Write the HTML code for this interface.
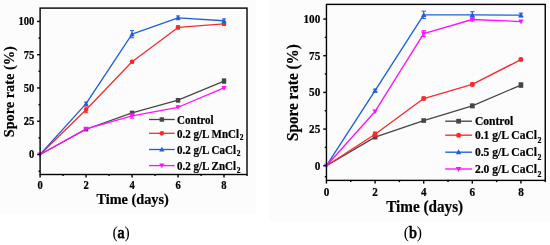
<!DOCTYPE html>
<html><head><meta charset="utf-8"><style>
html,body{margin:0;padding:0;background:#fff;width:550px;height:245px;overflow:hidden}
svg{display:block;will-change:transform}
.b{font-family:"Liberation Serif",serif;font-weight:bold;fill:#000;stroke:#000;stroke-width:0.2px}
.r{font-family:"Liberation Serif",serif;fill:#000}
</style></head><body>
<svg width="550" height="245" viewBox="0 0 550 245">
<rect width="550" height="245" fill="#fff"/>
<rect x="0" y="0" width="256.2" height="213.6" fill="#fcfcfc"/>
<rect x="268.8" y="0" width="281.2" height="221.5" fill="#fcfcfc"/>
<polyline points="40.10,154.53 86.08,129.24 132.06,112.86 178.04,100.22 224.02,81.05" fill="none" stroke="#474747" stroke-width="1.3" stroke-linejoin="round"/>
<rect x="83.85" y="127.00" width="4.46" height="4.46" fill="#474747"/>
<rect x="129.83" y="110.63" width="4.46" height="4.46" fill="#474747"/>
<path d="M178.04,98.49V101.95M176.04,98.49h4.0M176.04,101.95h4.0" stroke="#474747" stroke-width="1" fill="none"/>
<rect x="175.81" y="97.98" width="4.46" height="4.46" fill="#474747"/>
<path d="M224.02,78.92V83.18M222.02,78.92h4.0M222.02,83.18h4.0" stroke="#474747" stroke-width="1" fill="none"/>
<rect x="221.79" y="78.82" width="4.46" height="4.46" fill="#474747"/>
<polyline points="40.10,154.53 86.08,109.80 132.06,61.75 178.04,27.40 224.02,23.94" fill="none" stroke="#f62c2c" stroke-width="1.3" stroke-linejoin="round"/>
<path d="M86.08,106.87V112.73M84.08,106.87h4.0M84.08,112.73h4.0" stroke="#f62c2c" stroke-width="1" fill="none"/>
<circle cx="86.08" cy="109.80" r="2.35" fill="#f62c2c"/>
<path d="M132.06,60.41V63.08M130.06,60.41h4.0M130.06,63.08h4.0" stroke="#f62c2c" stroke-width="1" fill="none"/>
<circle cx="132.06" cy="61.75" r="2.35" fill="#f62c2c"/>
<path d="M178.04,25.80V29.00M176.04,25.80h4.0M176.04,29.00h4.0" stroke="#f62c2c" stroke-width="1" fill="none"/>
<circle cx="178.04" cy="27.40" r="2.35" fill="#f62c2c"/>
<path d="M224.02,22.61V25.27M222.02,22.61h4.0M222.02,25.27h4.0" stroke="#f62c2c" stroke-width="1" fill="none"/>
<circle cx="224.02" cy="23.94" r="2.35" fill="#f62c2c"/>
<polyline points="40.10,154.53 86.08,103.68 132.06,34.19 178.04,17.82 224.02,20.74" fill="none" stroke="#1e60dc" stroke-width="1.3" stroke-linejoin="round"/>
<path d="M86.08,102.08V105.28M84.08,102.08h4.0M84.08,105.28h4.0" stroke="#1e60dc" stroke-width="1" fill="none"/>
<path d="M86.08,100.98L88.66,105.68L83.50,105.68Z" fill="#1e60dc"/>
<path d="M132.06,30.60V37.78M130.06,30.60h4.0M130.06,37.78h4.0" stroke="#1e60dc" stroke-width="1" fill="none"/>
<path d="M132.06,31.49L134.65,36.19L129.47,36.19Z" fill="#1e60dc"/>
<path d="M178.04,15.95V19.68M176.04,15.95h4.0M176.04,19.68h4.0" stroke="#1e60dc" stroke-width="1" fill="none"/>
<path d="M178.04,15.11L180.62,19.81L175.45,19.81Z" fill="#1e60dc"/>
<path d="M224.02,18.88V22.61M222.02,18.88h4.0M222.02,22.61h4.0" stroke="#1e60dc" stroke-width="1" fill="none"/>
<path d="M224.02,18.04L226.60,22.74L221.43,22.74Z" fill="#1e60dc"/>
<polyline points="40.10,154.53 86.08,128.84 132.06,115.79 178.04,107.27 224.02,87.97" fill="none" stroke="#ff10ff" stroke-width="1.3" stroke-linejoin="round"/>
<path d="M40.10,157.23L42.69,152.53L37.52,152.53Z" fill="#ff10ff"/>
<path d="M86.08,131.54L88.66,126.84L83.50,126.84Z" fill="#ff10ff"/>
<path d="M132.06,113.40V118.19M130.06,113.40h4.0M130.06,118.19h4.0" stroke="#ff10ff" stroke-width="1" fill="none"/>
<path d="M132.06,118.49L134.65,113.79L129.47,113.79Z" fill="#ff10ff"/>
<path d="M178.04,109.97L180.62,105.27L175.45,105.27Z" fill="#ff10ff"/>
<path d="M224.02,90.67L226.60,85.97L221.43,85.97Z" fill="#ff10ff"/>
<rect x="40.10" y="8.10" width="206.91" height="166.40" fill="none" stroke="#000" stroke-width="1.4"/>
<path d="M40.10,174.50v3" stroke="#000" stroke-width="1.4"/>
<path d="M63.09,174.50v1.6" stroke="#000" stroke-width="1.4"/>
<path d="M86.08,174.50v3" stroke="#000" stroke-width="1.4"/>
<path d="M109.07,174.50v1.6" stroke="#000" stroke-width="1.4"/>
<path d="M132.06,174.50v3" stroke="#000" stroke-width="1.4"/>
<path d="M155.05,174.50v1.6" stroke="#000" stroke-width="1.4"/>
<path d="M178.04,174.50v3" stroke="#000" stroke-width="1.4"/>
<path d="M201.03,174.50v1.6" stroke="#000" stroke-width="1.4"/>
<path d="M224.02,174.50v3" stroke="#000" stroke-width="1.4"/>
<path d="M247.01,174.50v1.6" stroke="#000" stroke-width="1.4"/>
<path d="M40.10,171.17h-1.6" stroke="#000" stroke-width="1.4"/>
<path d="M40.10,137.89h-1.6" stroke="#000" stroke-width="1.4"/>
<path d="M40.10,104.61h-1.6" stroke="#000" stroke-width="1.4"/>
<path d="M40.10,71.33h-1.6" stroke="#000" stroke-width="1.4"/>
<path d="M40.10,38.05h-1.6" stroke="#000" stroke-width="1.4"/>
<path d="M40.10,154.53h-3" stroke="#000" stroke-width="1.4"/>
<text transform="translate(34.30,158.43) scale(1,1.1)" text-anchor="end" class="b" font-size="10.6">0</text>
<path d="M40.10,121.25h-3" stroke="#000" stroke-width="1.4"/>
<text transform="translate(34.30,125.15) scale(1,1.1)" text-anchor="end" class="b" font-size="10.6">25</text>
<path d="M40.10,87.97h-3" stroke="#000" stroke-width="1.4"/>
<text transform="translate(34.30,91.87) scale(1,1.1)" text-anchor="end" class="b" font-size="10.6">50</text>
<path d="M40.10,54.69h-3" stroke="#000" stroke-width="1.4"/>
<text transform="translate(34.30,58.59) scale(1,1.1)" text-anchor="end" class="b" font-size="10.6">75</text>
<path d="M40.10,21.41h-3" stroke="#000" stroke-width="1.4"/>
<text transform="translate(34.30,25.31) scale(1,1.1)" text-anchor="end" class="b" font-size="10.6">100</text>
<text transform="translate(40.10,188.90) scale(1,1.1)" text-anchor="middle" class="b" font-size="10.6">0</text>
<text transform="translate(86.08,188.90) scale(1,1.1)" text-anchor="middle" class="b" font-size="10.6">2</text>
<text transform="translate(132.06,188.90) scale(1,1.1)" text-anchor="middle" class="b" font-size="10.6">4</text>
<text transform="translate(178.04,188.90) scale(1,1.1)" text-anchor="middle" class="b" font-size="10.6">6</text>
<text transform="translate(224.02,188.90) scale(1,1.1)" text-anchor="middle" class="b" font-size="10.6">8</text>
<text transform="translate(132.60,204.20) scale(1,1.04)" text-anchor="middle" class="b" font-size="14.3">Time (days)</text>
<text transform="translate(13.60,91.80) rotate(-90) scale(1,1.04)" text-anchor="middle" class="b" font-size="14.3">Spore rate (%)</text>
<path d="M149.00,119.50H174.70" stroke="#474747" stroke-width="1.3"/>
<rect x="159.62" y="117.27" width="4.46" height="4.46" fill="#474747"/>
<text transform="translate(177.10,123.80) scale(1,1.07)" class="b" font-size="11">Control</text>
<path d="M149.00,133.30H174.70" stroke="#f62c2c" stroke-width="1.3"/>
<circle cx="161.85" cy="133.30" r="2.35" fill="#f62c2c"/>
<text transform="translate(177.10,137.60) scale(1,1.07)" class="b" font-size="11">0.2 g/L MnCl<tspan font-size="0.68em" dx="0.7" dy="2.5">2</tspan></text>
<path d="M149.00,149.50H174.70" stroke="#1e60dc" stroke-width="1.3"/>
<path d="M161.85,146.80L164.44,151.50L159.26,151.50Z" fill="#1e60dc"/>
<text transform="translate(177.10,153.80) scale(1,1.07)" class="b" font-size="11">0.2 g/L CaCl<tspan font-size="0.68em" dx="0.7" dy="2.5">2</tspan></text>
<path d="M149.00,165.60H174.70" stroke="#ff10ff" stroke-width="1.3"/>
<path d="M161.85,168.30L164.44,163.60L159.26,163.60Z" fill="#ff10ff"/>
<text transform="translate(177.10,169.90) scale(1,1.07)" class="b" font-size="11">0.2 g/L ZnCl<tspan font-size="0.68em" dx="0.7" dy="2.5">2</tspan></text>
<text x="121.1" y="238.3" text-anchor="middle" class="r" font-size="15.7">(<tspan stroke="#000" stroke-width="0.75">a</tspan>)</text>
<polyline points="326.45,165.73 375.07,137.13 423.69,120.56 472.31,105.89 520.93,85.06" fill="none" stroke="#474747" stroke-width="1.35" stroke-linejoin="round"/>
<rect x="372.74" y="134.80" width="4.66" height="4.66" fill="#474747"/>
<rect x="421.36" y="118.23" width="4.66" height="4.66" fill="#474747"/>
<path d="M472.31,104.13V107.65M470.11,104.13h4.4M470.11,107.65h4.4" stroke="#474747" stroke-width="1" fill="none"/>
<rect x="469.98" y="103.56" width="4.66" height="4.66" fill="#474747"/>
<path d="M520.93,82.86V87.26M518.73,82.86h4.4M518.73,87.26h4.4" stroke="#474747" stroke-width="1" fill="none"/>
<rect x="518.60" y="82.73" width="4.66" height="4.66" fill="#474747"/>
<polyline points="326.45,165.73 375.07,134.20 423.69,98.56 472.31,84.47 520.93,59.54" fill="none" stroke="#f62c2c" stroke-width="1.35" stroke-linejoin="round"/>
<path d="M375.07,132.00V136.40M372.87,132.00h4.4M372.87,136.40h4.4" stroke="#f62c2c" stroke-width="1" fill="none"/>
<circle cx="375.07" cy="134.20" r="2.45" fill="#f62c2c"/>
<path d="M423.69,97.09V100.02M421.49,97.09h4.4M421.49,100.02h4.4" stroke="#f62c2c" stroke-width="1" fill="none"/>
<circle cx="423.69" cy="98.56" r="2.45" fill="#f62c2c"/>
<path d="M472.31,83.01V85.94M470.11,83.01h4.4M470.11,85.94h4.4" stroke="#f62c2c" stroke-width="1" fill="none"/>
<circle cx="472.31" cy="84.47" r="2.45" fill="#f62c2c"/>
<path d="M520.93,58.37V60.71M518.73,58.37h4.4M518.73,60.71h4.4" stroke="#f62c2c" stroke-width="1" fill="none"/>
<circle cx="520.93" cy="59.54" r="2.45" fill="#f62c2c"/>
<polyline points="326.45,165.73 375.07,90.63 423.69,14.81 472.31,14.95 520.93,15.10" fill="none" stroke="#1e60dc" stroke-width="1.35" stroke-linejoin="round"/>
<path d="M375.07,89.17V92.10M372.87,89.17h4.4M372.87,92.10h4.4" stroke="#1e60dc" stroke-width="1" fill="none"/>
<path d="M375.07,87.82L377.76,92.72L372.38,92.72Z" fill="#1e60dc"/>
<path d="M423.69,11.14V18.47M421.49,11.14h4.4M421.49,18.47h4.4" stroke="#1e60dc" stroke-width="1" fill="none"/>
<path d="M423.69,11.99L426.38,16.89L421.00,16.89Z" fill="#1e60dc"/>
<path d="M472.31,11.73V18.18M470.11,11.73h4.4M470.11,18.18h4.4" stroke="#1e60dc" stroke-width="1" fill="none"/>
<path d="M472.31,12.14L475.00,17.04L469.61,17.04Z" fill="#1e60dc"/>
<path d="M520.93,13.19V17.01M518.73,13.19h4.4M518.73,17.01h4.4" stroke="#1e60dc" stroke-width="1" fill="none"/>
<path d="M520.93,12.28L523.62,17.18L518.23,17.18Z" fill="#1e60dc"/>
<polyline points="326.45,165.73 375.07,111.46 423.69,33.58 472.31,19.50 520.93,21.55" fill="none" stroke="#ff10ff" stroke-width="1.35" stroke-linejoin="round"/>
<path d="M326.45,168.55L329.14,163.65L323.75,163.65Z" fill="#ff10ff"/>
<path d="M375.07,114.28L377.76,109.38L372.38,109.38Z" fill="#ff10ff"/>
<path d="M423.69,30.65V36.51M421.49,30.65h4.4M421.49,36.51h4.4" stroke="#ff10ff" stroke-width="1" fill="none"/>
<path d="M423.69,36.40L426.38,31.50L421.00,31.50Z" fill="#ff10ff"/>
<path d="M472.31,18.03V20.97M470.11,18.03h4.4M470.11,20.97h4.4" stroke="#ff10ff" stroke-width="1" fill="none"/>
<path d="M472.31,22.32L475.00,17.42L469.61,17.42Z" fill="#ff10ff"/>
<path d="M520.93,24.37L523.62,19.47L518.23,19.47Z" fill="#ff10ff"/>
<rect x="326.45" y="4.39" width="218.79" height="176.00" fill="none" stroke="#000" stroke-width="1.4"/>
<path d="M326.45,180.40v3.2" stroke="#000" stroke-width="1.4"/>
<path d="M350.76,180.40v1.7" stroke="#000" stroke-width="1.4"/>
<path d="M375.07,180.40v3.2" stroke="#000" stroke-width="1.4"/>
<path d="M399.38,180.40v1.7" stroke="#000" stroke-width="1.4"/>
<path d="M423.69,180.40v3.2" stroke="#000" stroke-width="1.4"/>
<path d="M448.00,180.40v1.7" stroke="#000" stroke-width="1.4"/>
<path d="M472.31,180.40v3.2" stroke="#000" stroke-width="1.4"/>
<path d="M496.62,180.40v1.7" stroke="#000" stroke-width="1.4"/>
<path d="M520.93,180.40v3.2" stroke="#000" stroke-width="1.4"/>
<path d="M545.24,180.40v1.7" stroke="#000" stroke-width="1.4"/>
<path d="M326.45,176.73h-1.7" stroke="#000" stroke-width="1.4"/>
<path d="M326.45,147.40h-1.7" stroke="#000" stroke-width="1.4"/>
<path d="M326.45,110.73h-1.7" stroke="#000" stroke-width="1.4"/>
<path d="M326.45,74.06h-1.7" stroke="#000" stroke-width="1.4"/>
<path d="M326.45,37.39h-1.7" stroke="#000" stroke-width="1.4"/>
<path d="M326.45,165.73h-3.2" stroke="#000" stroke-width="1.4"/>
<text transform="translate(320.25,169.73) scale(1,1.1)" text-anchor="end" class="b" font-size="11.2">0</text>
<path d="M326.45,129.06h-3.2" stroke="#000" stroke-width="1.4"/>
<text transform="translate(320.25,133.06) scale(1,1.1)" text-anchor="end" class="b" font-size="11.2">25</text>
<path d="M326.45,92.39h-3.2" stroke="#000" stroke-width="1.4"/>
<text transform="translate(320.25,96.39) scale(1,1.1)" text-anchor="end" class="b" font-size="11.2">50</text>
<path d="M326.45,55.73h-3.2" stroke="#000" stroke-width="1.4"/>
<text transform="translate(320.25,59.73) scale(1,1.1)" text-anchor="end" class="b" font-size="11.2">75</text>
<path d="M326.45,19.06h-3.2" stroke="#000" stroke-width="1.4"/>
<text transform="translate(320.25,23.06) scale(1,1.1)" text-anchor="end" class="b" font-size="11.2">100</text>
<text transform="translate(326.45,195.80) scale(1,1.1)" text-anchor="middle" class="b" font-size="11.2">0</text>
<text transform="translate(375.07,195.80) scale(1,1.1)" text-anchor="middle" class="b" font-size="11.2">2</text>
<text transform="translate(423.69,195.80) scale(1,1.1)" text-anchor="middle" class="b" font-size="11.2">4</text>
<text transform="translate(472.31,195.80) scale(1,1.1)" text-anchor="middle" class="b" font-size="11.2">6</text>
<text transform="translate(520.93,195.80) scale(1,1.1)" text-anchor="middle" class="b" font-size="11.2">8</text>
<text transform="translate(424.70,211.90) scale(1,1.04)" text-anchor="middle" class="b" font-size="15.2">Time (days)</text>
<text transform="translate(298.20,92.60) rotate(-90) scale(1,1.04)" text-anchor="middle" class="b" font-size="15.2">Spore rate (%)</text>
<path d="M445.20,121.20H472.00" stroke="#474747" stroke-width="1.35"/>
<rect x="456.23" y="118.83" width="4.75" height="4.75" fill="#474747"/>
<text transform="translate(474.90,125.30) scale(1,1.07)" class="b" font-size="11.6">Control</text>
<path d="M445.20,135.20H472.00" stroke="#f62c2c" stroke-width="1.35"/>
<circle cx="458.60" cy="135.20" r="2.50" fill="#f62c2c"/>
<text transform="translate(474.90,139.30) scale(1,1.07)" class="b" font-size="11.6">0.1 g/L CaCl<tspan font-size="0.68em" dx="0.5" dy="3.2">2</tspan></text>
<path d="M445.20,152.20H472.00" stroke="#1e60dc" stroke-width="1.35"/>
<path d="M458.60,149.32L461.35,154.32L455.85,154.32Z" fill="#1e60dc"/>
<text transform="translate(474.90,156.30) scale(1,1.07)" class="b" font-size="11.6">0.5 g/L CaCl<tspan font-size="0.68em" dx="0.5" dy="3.2">2</tspan></text>
<path d="M445.20,169.00H472.00" stroke="#ff10ff" stroke-width="1.35"/>
<path d="M458.60,171.88L461.35,166.88L455.85,166.88Z" fill="#ff10ff"/>
<text transform="translate(474.90,173.10) scale(1,1.07)" class="b" font-size="11.6">2.0 g/L CaCl<tspan font-size="0.68em" dx="0.5" dy="3.2">2</tspan></text>
<text x="412.9" y="238.3" text-anchor="middle" class="r" font-size="15.7">(<tspan stroke="#000" stroke-width="0.75">b</tspan>)</text>
</svg>
</body></html>
